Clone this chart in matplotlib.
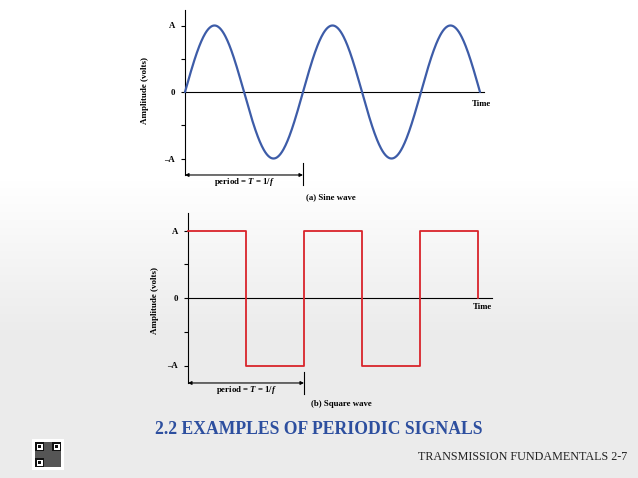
import numpy as np
import matplotlib
matplotlib.use("Agg")
from matplotlib import pyplot as plt
from matplotlib.patches import Rectangle

# signal parameters (in units of period T and amplitude A)
N_PERIODS = 2.5
AMPLITUDE = 1.0
SQUARE_EDGES = [0.0, 0.5, 1.0, 1.5, 2.0, 2.5]
SQUARE_LEVELS = [1, -1, 1, -1, 1]

TICK_VALUES = [-1, -0.5, 0, 0.5, 1]
TICK_LABELS = ["\u2013A", "", "0", "", "A"]

TITLE = "2.2 EXAMPLES OF PERIODIC SIGNALS"
FOOTER = "TRANSMISSION FUNDAMENTALS 2-7"

W, H = 638, 478
SERIF = "Liberation Serif"
SINE_COLOR = "#3d5ca8"
SQUARE_COLOR = "#d9242b"

plt.rcParams["mathtext.fontset"] = "custom"
plt.rcParams["mathtext.it"] = "Liberation Serif:italic:bold"
plt.rcParams["mathtext.rm"] = "Liberation Serif:bold"


def px_axes(fig, left, top, right, bottom):
    return fig.add_axes([left / W, 1 - bottom / H, (right - left) / W, (bottom - top) / H])


def setup_axis(ax, x0, unit_x, y0, unit_y, left, top, right, bottom, ytop, ybot, xend):
    ax.set_xlim((left - x0) / unit_x, (right - x0) / unit_x)
    ax.set_ylim((y0 - bottom) / unit_y, (y0 - top) / unit_y)
    ax.patch.set_alpha(0)
    for s in ["top", "right"]:
        ax.spines[s].set_visible(False)
    ax.spines["left"].set_position(("data", 0))
    ax.spines["left"].set_bounds(ybot, ytop)
    ax.spines["bottom"].set_position(("data", 0))
    ax.spines["bottom"].set_bounds(0, xend)
    for s in ["left", "bottom"]:
        ax.spines[s].set_linewidth(0.8)
    ax.set_xticks([])
    ax.set_yticks(TICK_VALUES)
    ax.set_yticklabels(TICK_LABELS, fontfamily=SERIF, fontweight="bold", fontsize=6.3)
    ax.tick_params(axis="y", direction="out", length=3, width=0.8, pad=4)


def period_marker(ax, y, text, bar_top, bar_bot, unit_y):
    ax.annotate("", xy=(0, y), xytext=(1, y),
                arrowprops=dict(arrowstyle="<|-|>", color="black", lw=0.8,
                                mutation_scale=5, shrinkA=0, shrinkB=0),
                annotation_clip=False)
    ax.plot([1, 1], [bar_bot, bar_top], color="black", lw=0.8, clip_on=False)
    ax.text(0.5, y - 7 / unit_y, text, ha="center", va="center", fontsize=6.3,
            fontfamily=SERIF, fontweight="bold")


fig = plt.figure(figsize=(W / 100, H / 100), dpi=100)
fig.patch.set_facecolor("white")

# background layer in pixel coords: soft grey wash over the lower part
bg = fig.add_axes([0, 0, 1, 1])
rows = np.arange(H)
shade = np.clip((rows - 180) / 150.0, 0, 1)[:, None] * np.ones((1, W))
shade *= 0.075
img = np.ones((H, W, 3)) - shade[:, :, None]
bg.imshow(img, extent=[0, W, H, 0], aspect="auto", zorder=0, interpolation="bilinear")
# small QR code block
bg.add_patch(Rectangle((32, 439), 32, 31, color="white", lw=0, zorder=1))
bg.add_patch(Rectangle((35, 442), 26, 25, color="#555555", lw=0, zorder=2))
for qx, qy in [(35, 442), (52, 442), (35, 458)]:
    bg.add_patch(Rectangle((qx, qy), 9, 9, color="#111111", lw=0, zorder=3))
    bg.add_patch(Rectangle((qx + 1.5, qy + 1.5), 6, 6, color="white", lw=0, zorder=4))
    bg.add_patch(Rectangle((qx + 3, qy + 3), 3, 3, color="#111111", lw=0, zorder=5))
bg.set_xlim(0, W)
bg.set_ylim(H, 0)
bg.axis("off")

# (a) sine wave
ux1, uy1 = 118.0, 66.5
ax1 = px_axes(fig, 185, 5, 500, 200)
setup_axis(ax1, 185, ux1, 92, uy1, 185, 5, 500, 200, 1.233, -1.248, 2.534)
t = np.linspace(0, N_PERIODS, 600)
ax1.plot(t, AMPLITUDE * np.sin(2 * np.pi * t), color=SINE_COLOR, lw=1.6,
         solid_capstyle="round", clip_on=False, zorder=3)
ax1.text(2.51, -12 / uy1, "Time", ha="center", va="center", fontsize=6.3,
         fontfamily=SERIF, fontweight="bold")
ax1.text(-40 / ux1, 0.03, "Amplitude (volts)", rotation=90, ha="center", va="center",
         fontsize=6.5, fontfamily=SERIF, fontweight="bold")
period_marker(ax1, -1.248, "period = $\\mathit{T}$ = 1/$\\mathit{f}$", -1.07, -1.40, uy1)
ax1.text(1.24, -105 / uy1, "(a) Sine wave", ha="center", va="center", fontsize=6.3,
         fontfamily=SERIF, fontweight="bold")

# (b) square wave
ux2, uy2 = 116.0, 67.5
ax2 = px_axes(fig, 188, 208, 503, 413)
setup_axis(ax2, 188, ux2, 298, uy2, 188, 208, 503, 413, 1.259, -1.259, 2.62)
xs, ys = [], []
for i, lvl in enumerate(SQUARE_LEVELS):
    xs += [SQUARE_EDGES[i], SQUARE_EDGES[i + 1]]
    ys += [lvl * AMPLITUDE, lvl * AMPLITUDE]
xs.append(SQUARE_EDGES[-1])
ys.append(0)
ax2.plot(xs, ys, color=SQUARE_COLOR, lw=1.3, clip_on=False, zorder=3)
ax2.text(2.54, -9 / uy2, "Time", ha="center", va="center", fontsize=6.3,
         fontfamily=SERIF, fontweight="bold")
ax2.text(-33 / ux2, -0.04, "Amplitude (volts)", rotation=90, ha="center", va="center",
         fontsize=6.5, fontfamily=SERIF, fontweight="bold")
period_marker(ax2, -1.259, "period = $\\mathit{T}$ = 1/$\\mathit{f}$", -1.096, -1.422, uy2)
ax2.text(1.32, -106 / uy2, "(b) Square wave", ha="center", va="center", fontsize=6.3,
         fontfamily=SERIF, fontweight="bold")

fig.text(319 / W, 1 - 430 / H, TITLE, ha="center", va="center", fontsize=12.7,
         fontfamily=SERIF, fontweight="bold", color="#2d4f9f")
fig.text(627 / W, 1 - 457 / H, FOOTER, ha="right", va="center", fontsize=8.7,
         fontfamily=SERIF, color="#222222")

fig.savefig("out.png", dpi=100)
